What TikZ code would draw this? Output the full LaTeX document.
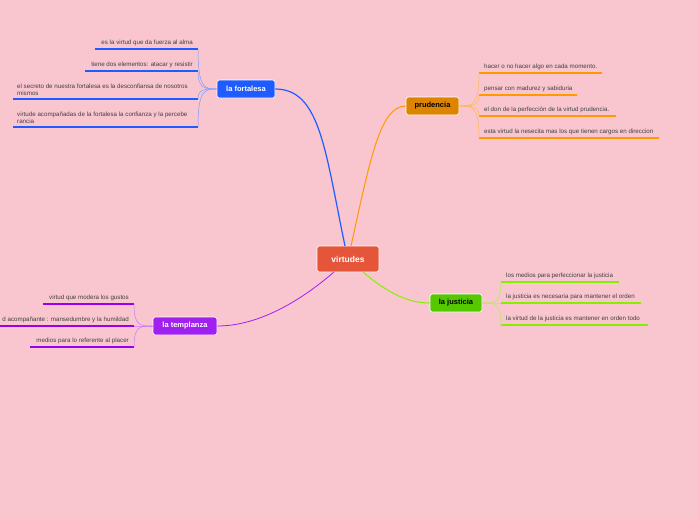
\documentclass[tikz,border=0pt]{standalone}
\usepackage{fontspec}
\setmainfont{Liberation Sans}
\begin{document}
\begin{tikzpicture}[x=1pt,y=-1pt,
  br/.style={draw=white,line width=0.6pt,rounded corners=2.5pt,text=white,font=\fontsize{7.5}{8}\selectfont\bfseries,inner sep=0pt},
  lf/.style={font=\fontsize{6.2}{7.2}\selectfont,text=black!75,inner sep=0pt},
  ln/.style={line width=1.6pt},
  cn/.style={line width=0.5pt}]
\definecolor{bg}{HTML}{F9C6D0}
\definecolor{cred}{HTML}{E4553A}
\definecolor{cblue}{HTML}{1F5CFF}
\definecolor{corange}{HTML}{DD8500}
\definecolor{cgreen}{HTML}{55C800}
\definecolor{cpurple}{HTML}{A020F0}
\definecolor{lorange}{HTML}{FF9900}
\definecolor{lgreen}{HTML}{88EE00}
\definecolor{lpurple}{HTML}{9900EE}
\fill[bg] (0,0) rectangle (697,520);
\useasboundingbox (0,0) rectangle (697,520);
% center
\node[br,fill=cred,minimum width=62pt,minimum height=26pt,font=\fontsize{8.5}{9}\selectfont\bfseries] (c) at (348,259) {virtudes};
\node[br,fill=cblue,minimum width=58pt,minimum height=18pt] (f) at (246,89) {la fortalesa};
\node[br,fill=corange,minimum width=53pt,minimum height=18pt,text=black] (p) at (432.5,106) {prudencia};
\node[br,fill=cgreen,minimum width=52pt,minimum height=18pt,text=black] (j) at (456,303) {la justicia};
\node[br,fill=cpurple,minimum width=64pt,minimum height=18pt] (t) at (185,326) {la templanza};
% main connectors
\draw[cblue,line width=1.2pt] (345,246) .. controls (325,150) and (320,89) .. (f.east);
\draw[lorange,line width=1pt] (351,246) .. controls (370,160) and (380,106) .. (p.west);
\draw[lgreen,line width=1pt] (363,272) .. controls (390,295) and (410,303) .. (j.west);
\draw[cpurple,line width=0.8pt] (334,272) .. controls (290,310) and (250,326) .. (t.east);
% fortalesa leaves
\coordinate (fa) at (95,49); \coordinate (fb) at (198,49);
\draw[cblue,ln] (fa) -- (fb);
\node[lf,anchor=south east] (f1) at (193,46) {es la virtud que da fuerza al alma};
\coordinate (fc) at (85,71); \coordinate (fd) at (198,71);
\draw[cblue,ln] (fc) -- (fd);
\node[lf,anchor=south east] (f2) at (193,68) {tiene dos elementos: atacar y resistir};
\coordinate (fe) at (13,99); \coordinate (ff) at (198,99);
\draw[cblue,ln] (fe) -- (ff);
\node[lf,anchor=south west,align=left] (f3) at (17,96) {el secreto de nuestra fortalesa es la desconfiansa de nosotros\\mismos};
\coordinate (fg) at (13,127); \coordinate (fh) at (198,127);
\draw[cblue,ln] (fg) -- (fh);
\node[lf,anchor=south west,align=left] (f4) at (17,124) {virtude acompañadas de la fortalesa la confianza y la percebe\\rancia};
\foreach \e in {fb,fd,ff,fh}
  \draw[cblue!60,cn] (f.west) .. controls (205,89) and (198,89) .. (\e);
% prudencia leaves
\foreach \y/\xe/\n/\t in {73/602/p1/{hacer o no hacer algo en cada momento.},95/577/p2/{pensar con madurez y sabiduria},116/616/p3/{el don de la perfección de la virtud prudencia.},138/659/p4/{esta virtud la nesecita mas los que tienen cargos en direccion}}{
  \coordinate (\n s) at (479,\y);
  \draw[lorange,ln] (\n s) -- (\xe,\y);
  \node[lf,anchor=south west] (\n) at (484,\y-3) {\t};
  \draw[lorange!70,cn] (p.east) .. controls (472,106) and (479,106) .. (\n s);
}
% justicia leaves
\foreach \y/\xe/\n/\t in {282/619/j1/{los medios para perfeccionar la justicia},303/641/j2/{la justicia es necesaria para mantener el orden},325/648/j3/{la virtud de la justicia es mantener en orden todo}}{
  \coordinate (\n s) at (501,\y);
  \draw[lgreen,ln] (\n s) -- (\xe,\y);
  \node[lf,anchor=south west] (\n) at (506,\y-3) {\t};
  \draw[lgreen!70,cn] (j.east) .. controls (495,303) and (501,303) .. (\n s);
}
% templanza leaves
\foreach \y/\xa/\n/\t in {304/43/t1/{virtud que modera los gustos},326/0/t2/{d acompañante : mansedumbre y la humildad},347/30/t3/{medios para lo referente al placer}}{
  \coordinate (\n s) at (134,\y);
  \draw[lpurple,ln] (\xa,\y) -- (\n s);
  \node[lf,anchor=south east] (\n) at (129,\y-3) {\t};
  \draw[cpurple!60,cn] (t.west) .. controls (140,326) and (134,326) .. (\n s);
}
\end{tikzpicture}
\end{document}
